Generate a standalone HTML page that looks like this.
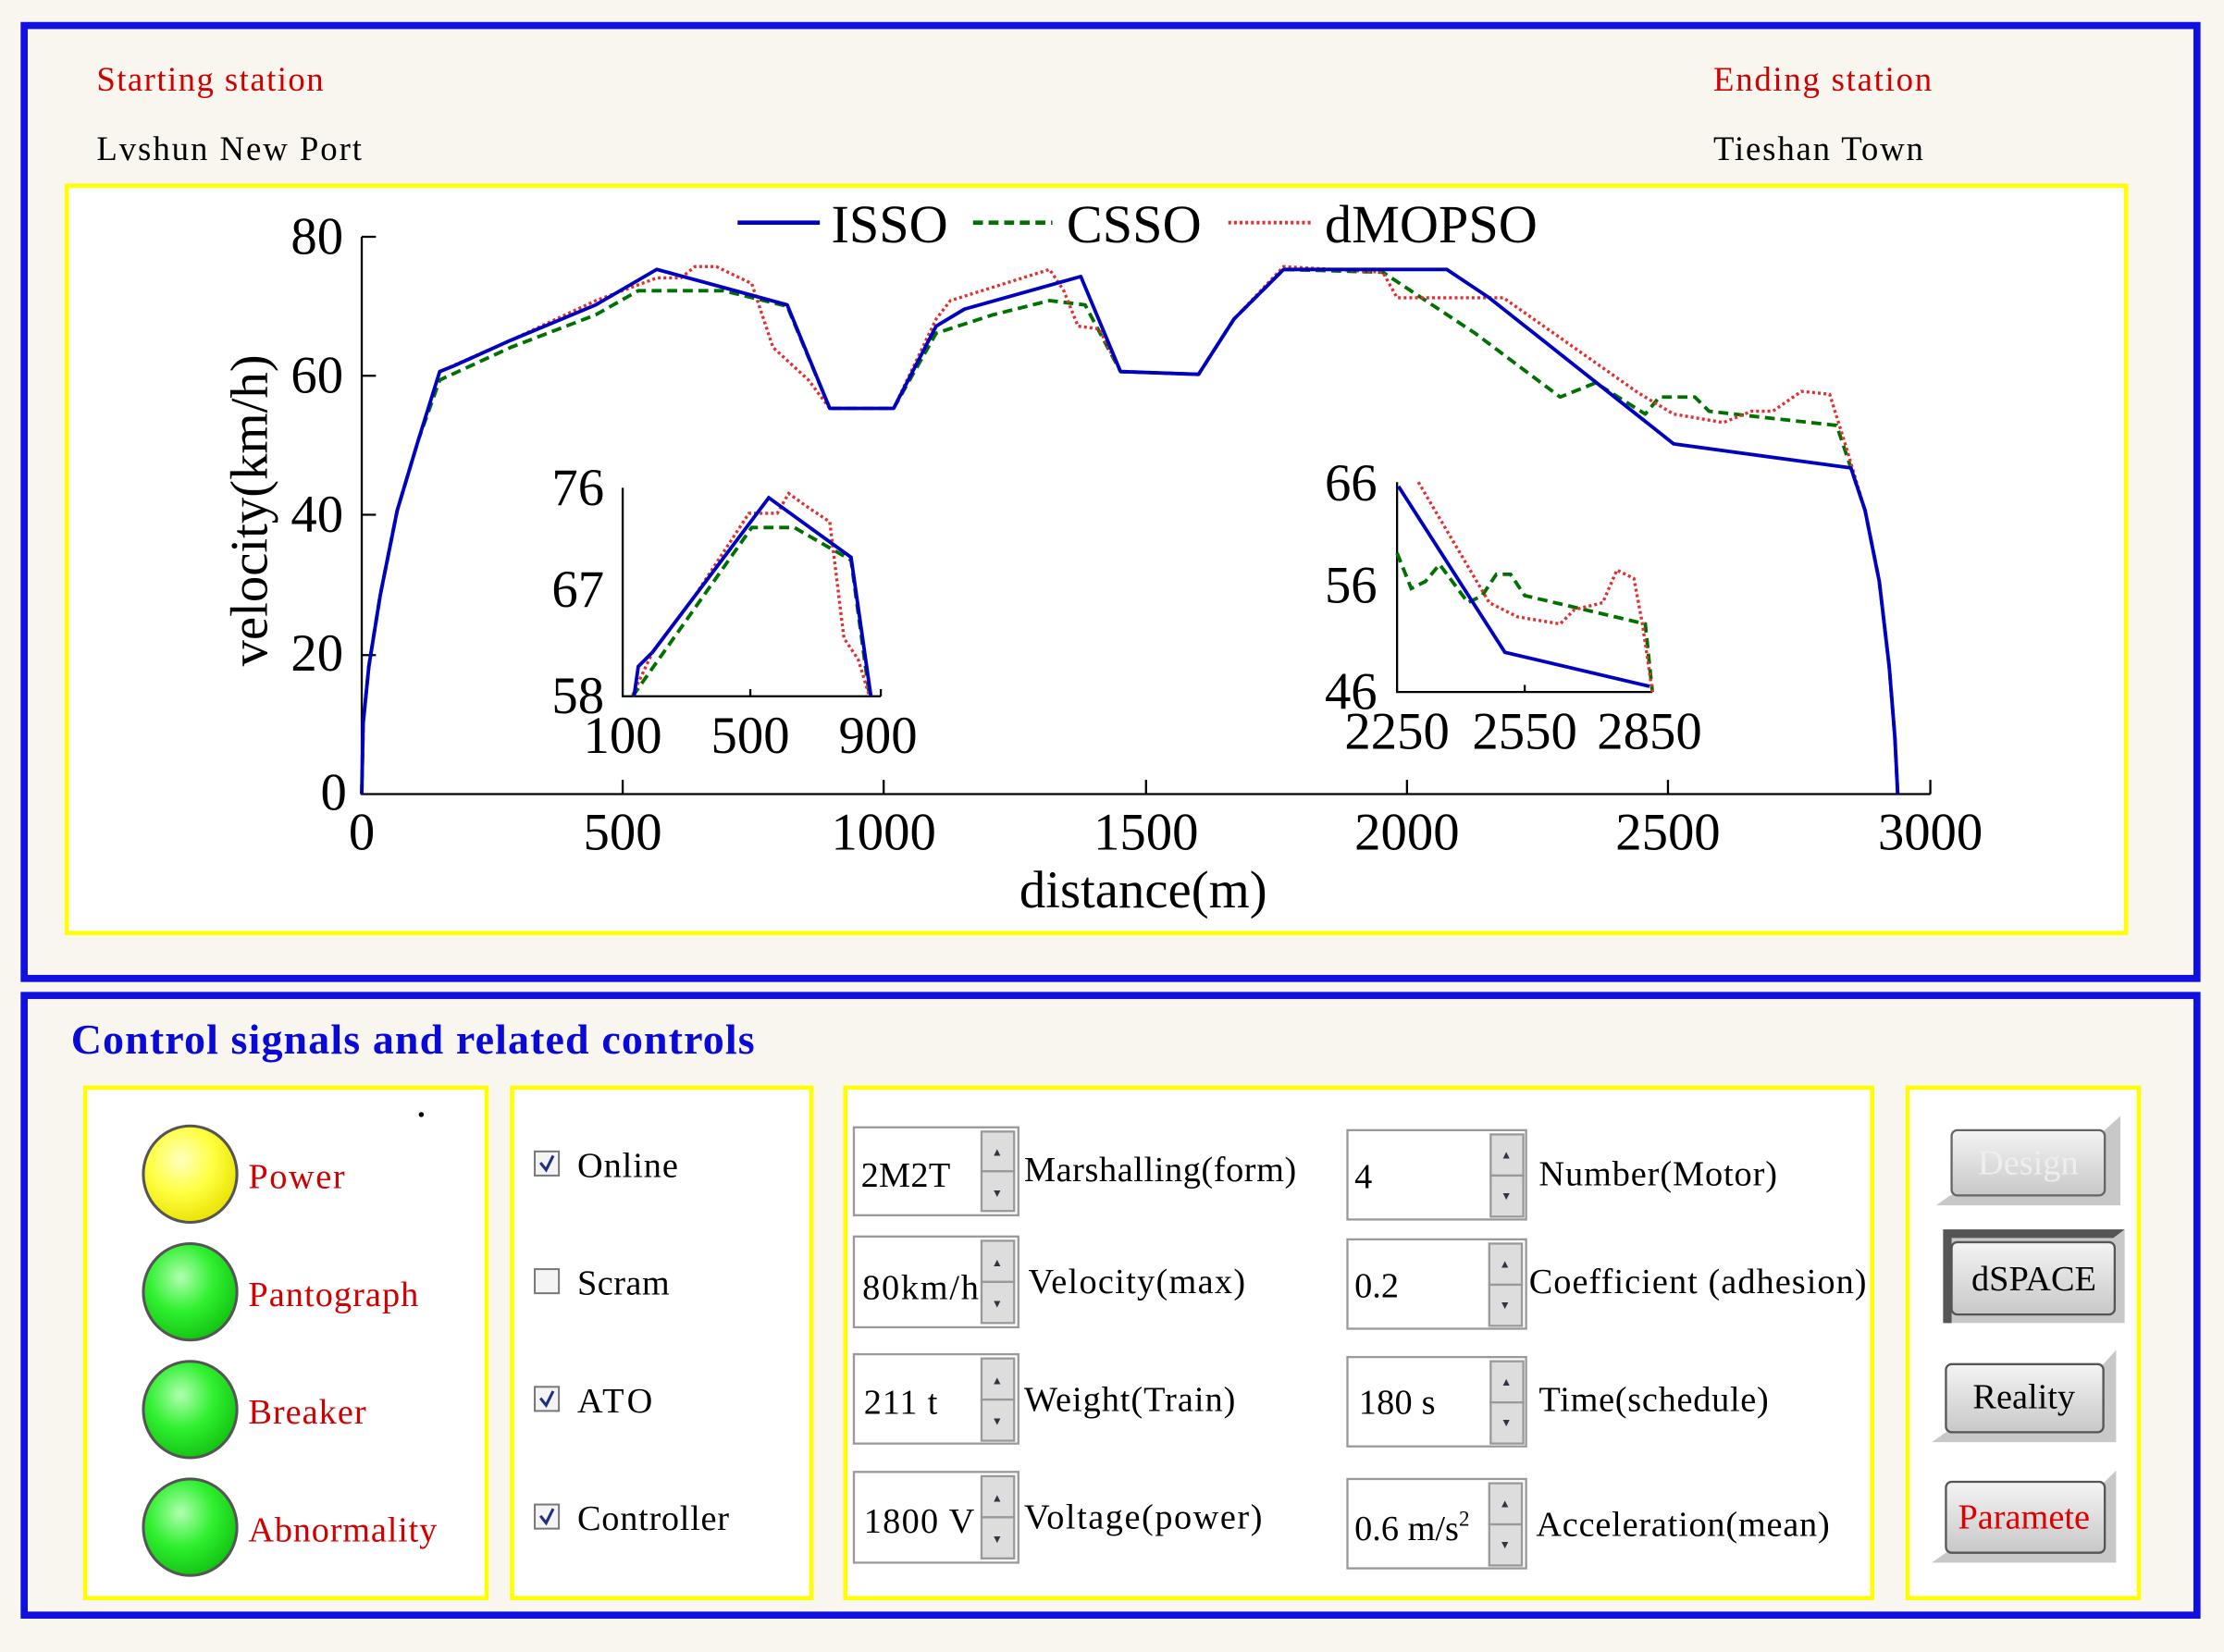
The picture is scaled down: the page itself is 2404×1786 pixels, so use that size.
<!DOCTYPE html>
<html><head><meta charset="utf-8"><style>
html,body{margin:0;padding:0;background:#f8f6ee;}
svg{display:block;}
text{font-family:"Liberation Serif",serif;}
</style></head><body>
<svg width="2404" height="1786" viewBox="0 0 1568 1165" xmlns="http://www.w3.org/2000/svg">
<defs>
<radialGradient id="gy" cx="0.4" cy="0.35" r="0.7"><stop offset="0" stop-color="#ffffc0"/><stop offset="0.5" stop-color="#ffff40"/><stop offset="1" stop-color="#e8e000"/></radialGradient>
<radialGradient id="gg" cx="0.4" cy="0.35" r="0.7"><stop offset="0" stop-color="#b0ffb0"/><stop offset="0.5" stop-color="#30f030"/><stop offset="1" stop-color="#10c010"/></radialGradient>
<linearGradient id="bt" x1="0" y1="0" x2="0" y2="1"><stop offset="0" stop-color="#f4f4f4"/><stop offset="1" stop-color="#c8c8c8"/></linearGradient>
</defs>
<rect width="1568" height="1165" fill="#f8f6ee"/>
<!-- top panel -->
<rect x="17" y="18" width="1532" height="672" fill="#f8f6ee" stroke="#1010e0" stroke-width="5"/>
<text x="68" y="64" font-size="24" fill="#d00000" textLength="160">Starting station</text>
<text x="68" y="113" font-size="24" fill="#000" textLength="187">Lvshun New Port</text>
<text x="1208" y="64" font-size="24" fill="#d00000" textLength="154">Ending station</text>
<text x="1208" y="113" font-size="24" fill="#000" textLength="148">Tieshan Town</text>
<rect x="47" y="131" width="1452" height="527" fill="#fff" stroke="#ffff00" stroke-width="3"/>
<!-- axes -->
<g stroke="#000" stroke-width="1.5" fill="none">
<path d="M255 167 V560 H1361"/>
<path d="M255 167 h10 M255 265 h10 M255 363 h10 M255 462 h10"/>
<path d="M439 560 v-10 M623 560 v-10 M808 560 v-10 M992 560 v-10 M1176 560 v-10 M1361 560 v-10"/>
</g>
<g font-size="37" fill="#000">
<text x="205" y="179">80</text><text x="205" y="277">60</text><text x="205" y="375">40</text><text x="205" y="473">20</text><text x="226" y="571">0</text>
<g text-anchor="middle"><text x="255" y="599">0</text><text x="439" y="599">500</text><text x="623" y="599">1000</text><text x="808" y="599">1500</text><text x="992" y="599">2000</text><text x="1176" y="599">2500</text><text x="1361" y="599">3000</text></g>
<text x="806" y="640" text-anchor="middle">distance(m)</text>
<text transform="translate(188,360) rotate(-90)" text-anchor="middle">velocity(km/h)</text>
</g>
<!-- legend -->
<line x1="520" y1="157" x2="578" y2="157" stroke="#0000c0" stroke-width="3"/>
<text x="586" y="171" font-size="38">ISSO</text>
<line x1="686" y1="157" x2="742" y2="157" stroke="#007000" stroke-width="3" stroke-dasharray="7 4"/>
<text x="752" y="171" font-size="38">CSSO</text>
<line x1="866" y1="157" x2="924" y2="157" stroke="#e03030" stroke-width="2.5" stroke-dasharray="2 2"/>
<text x="934" y="171" font-size="38">dMOPSO</text>
<!-- series -->
<g fill="none" stroke-linejoin="round">
<path stroke="#007000" stroke-width="2.5" stroke-dasharray="7 4" d="M255 560 L256 510 L260 470 L268 420 L280 360 L295 310 L310 268 L360 245 L420 222 L450 205 L510 205 L555 216 L585 288 L630 288 L660 235 L700 222 L740 212 L765 215 L790 262 L845 264 L870 225 L905 190 L975 192 L1040 235 L1100 280 L1125 270 L1160 292 L1170 280 L1195 280 L1205 290 L1240 294 L1295 300 L1305 330 L1315 360 L1325 410 L1332 470 L1336 520 L1338 560"/>
<path stroke="#e03030" stroke-width="2.2" stroke-dasharray="2 2" d="M255 560 L256 510 L260 470 L268 420 L280 360 L295 310 L310 262 L360 240 L420 212 L463 196 L480 196 L490 188 L505 188 L530 200 L545 245 L570 268 L585 288 L630 288 L660 225 L670 212 L740 190 L750 205 L760 230 L775 232 L790 262 L845 264 L870 225 L905 188 L975 192 L985 210 L1060 210 L1155 277 L1180 292 L1215 298 L1235 290 L1250 290 L1270 276 L1290 278 L1300 310 L1315 360 L1325 410 L1332 470 L1336 520 L1338 560"/>
<path stroke="#0000c0" stroke-width="2.5" d="M255 560 L256 510 L260 470 L268 420 L280 360 L295 310 L310 262 L320 258 L360 240 L420 215 L463 190 L500 200 L555 215 L585 288 L630 288 L660 230 L680 218 L762 195 L790 262 L845 264 L870 225 L905 190 L1020 190 L1050 210 L1180 313 L1305 330 L1315 360 L1325 410 L1332 470 L1336 520 L1338 560"/>
</g>
<!-- inset left -->
<g stroke="#000" stroke-width="1.5" fill="none"><path d="M439 344 V491 H621"/><path d="M529 491 v-5 M621 491 v-5"/></g>
<g font-size="37" fill="#000">
<text x="389" y="356">76</text><text x="389" y="428">67</text><text x="389" y="503">58</text>
<text x="439" y="531" text-anchor="middle">100</text><text x="529" y="531" text-anchor="middle">500</text><text x="619" y="531" text-anchor="middle">900</text>
</g>
<g fill="none">
<path stroke="#007000" stroke-width="2.5" stroke-dasharray="7 4" d="M446 491 L530 372 L560 372 L600 395 L613 491"/>
<path stroke="#e03030" stroke-width="2.2" stroke-dasharray="2 2" d="M446 490 L460 460 L490 420 L528 362 L548 362 L556 348 L570 358 L585 368 L595 450 L605 465 L613 491"/>
<path stroke="#0000c0" stroke-width="2.5" d="M447 491 L450 470 L460 460 L542 351 L600 393 L614 491"/>
</g>
<!-- inset right -->
<g stroke="#000" stroke-width="1.5" fill="none"><path d="M985 340 V488 H1165"/><path d="M1075 488 v-5 M1165 488 v-5"/></g>
<g font-size="37" fill="#000">
<text x="934" y="353">66</text><text x="934" y="425">56</text><text x="934" y="500">46</text>
<text x="985" y="528" text-anchor="middle">2250</text><text x="1075" y="528" text-anchor="middle">2550</text><text x="1163" y="528" text-anchor="middle">2850</text>
</g>
<g fill="none">
<path stroke="#007000" stroke-width="2.5" stroke-dasharray="7 4" d="M985 390 L995 415 L1005 410 L1015 398 L1035 425 L1045 420 L1055 405 L1065 405 L1075 420 L1160 440 L1165 488"/>
<path stroke="#e03030" stroke-width="2.2" stroke-dasharray="2 2" d="M1000 340 L1050 425 L1070 435 L1100 440 L1110 430 L1130 425 L1140 402 L1152 408 L1158 440 L1165 488"/>
<path stroke="#0000c0" stroke-width="2.5" d="M986 343 L1061 460 L1163 484"/>
</g>
<!-- bottom panel -->
<rect x="17" y="702" width="1532" height="437" fill="#f8f6ee" stroke="#1010e0" stroke-width="5"/>
<text x="50" y="743" font-size="30" font-weight="bold" fill="#0a0ad8" textLength="482">Control signals and related controls</text>
<g fill="#fff" stroke="#ffff00" stroke-width="3">
<rect x="60" y="767" width="283" height="360"/><rect x="361" y="767" width="211" height="360"/><rect x="596" y="767" width="724" height="360"/><rect x="1345" y="767" width="163" height="360"/>
</g>
<circle cx="297" cy="786" r="1.8" fill="#000"/>
<g stroke="#555" stroke-width="2">
<ellipse cx="134" cy="828" rx="33" ry="34" fill="url(#gy)"/>
<ellipse cx="134" cy="911" rx="33" ry="34" fill="url(#gg)"/>
<ellipse cx="134" cy="994" rx="33" ry="34" fill="url(#gg)"/>
<ellipse cx="134" cy="1077" rx="33" ry="34" fill="url(#gg)"/>
</g>
<g font-size="25" fill="#d00000">
<text x="175" y="838" textLength="68">Power</text><text x="175" y="921" textLength="120">Pantograph</text><text x="175" y="1004" textLength="83">Breaker</text><text x="175" y="1087" textLength="133">Abnormality</text>
</g>
<g stroke="#777" stroke-width="1.3" fill="#f4f4f4">
<rect x="377" y="812" width="17" height="17"/><rect x="377" y="895" width="17" height="17"/><rect x="377" y="978" width="17" height="17"/><rect x="377" y="1061" width="17" height="17"/>
</g>
<g stroke="#203080" stroke-width="2" fill="none">
<path d="M381 820 l4 5 l5 -10"/><path d="M381 986 l4 5 l5 -10"/><path d="M381 1069 l4 5 l5 -10"/>
</g>
<g font-size="25" fill="#000">
<text x="407" y="830" textLength="71">Online</text><text x="407" y="913" textLength="65">Scram</text><text x="407" y="996" textLength="53">ATO</text><text x="407" y="1079" textLength="107">Controller</text>
</g>
<!-- spin boxes -->
<g stroke="#999" stroke-width="1.5">
<rect x="602" y="795" width="116" height="62" fill="#fff"/><rect x="692" y="798" width="23" height="28" fill="#ddd"/><rect x="692" y="826" width="23" height="28" fill="#ddd"/>
<rect x="602" y="872" width="116" height="64" fill="#fff"/><rect x="692" y="875" width="23" height="29" fill="#ddd"/><rect x="692" y="904" width="23" height="29" fill="#ddd"/>
<rect x="602" y="955" width="116" height="63" fill="#fff"/><rect x="692" y="958" width="23" height="29" fill="#ddd"/><rect x="692" y="987" width="23" height="29" fill="#ddd"/>
<rect x="602" y="1038" width="116" height="64" fill="#fff"/><rect x="692" y="1041" width="23" height="29" fill="#ddd"/><rect x="692" y="1070" width="23" height="29" fill="#ddd"/>
<rect x="950" y="797" width="126" height="63" fill="#fff"/><rect x="1051" y="800" width="23" height="29" fill="#ddd"/><rect x="1051" y="829" width="23" height="29" fill="#ddd"/>
<rect x="950" y="874" width="126" height="63" fill="#fff"/><rect x="1050" y="877" width="23" height="29" fill="#ddd"/><rect x="1050" y="906" width="23" height="29" fill="#ddd"/>
<rect x="950" y="957" width="126" height="63" fill="#fff"/><rect x="1051" y="960" width="23" height="29" fill="#ddd"/><rect x="1051" y="989" width="23" height="29" fill="#ddd"/>
<rect x="950" y="1043" width="126" height="63" fill="#fff"/><rect x="1050" y="1046" width="23" height="29" fill="#ddd"/><rect x="1050" y="1075" width="23" height="29" fill="#ddd"/>
</g>
<g fill="#334" font-size="8" text-anchor="middle">
<text x="703" y="815">▲</text><text x="703" y="844">▼</text><text x="703" y="893">▲</text><text x="703" y="922">▼</text><text x="703" y="976">▲</text><text x="703" y="1005">▼</text><text x="703" y="1059">▲</text><text x="703" y="1088">▼</text>
<text x="1062" y="817">▲</text><text x="1062" y="846">▼</text><text x="1061" y="894">▲</text><text x="1061" y="923">▼</text><text x="1062" y="977">▲</text><text x="1062" y="1006">▼</text><text x="1061" y="1063">▲</text><text x="1061" y="1092">▼</text>
</g>
<g font-size="25" fill="#000">
<text x="607" y="837" textLength="63">2M2T</text><text x="608" y="916" textLength="82">80km/h</text><text x="609" y="997" textLength="52">211 t</text><text x="609" y="1081" textLength="78">1800 V</text>
<text x="722" y="833" textLength="192">Marshalling(form)</text><text x="725" y="912" textLength="153">Velocity(max)</text><text x="722" y="995" textLength="149">Weight(Train)</text><text x="722" y="1078" textLength="168">Voltage(power)</text>
<text x="955" y="838">4</text><text x="955" y="915">0.2</text><text x="958" y="997" textLength="54">180 s</text><text x="955" y="1086">0.6 m/s<tspan font-size="15" dy="-10">2</tspan></text>
<text x="1085" y="836" textLength="168">Number(Motor)</text><text x="1078" y="912" textLength="238">Coefficient (adhesion)</text><text x="1085" y="995" textLength="162">Time(schedule)</text><text x="1083" y="1083" textLength="207">Acceleration(mean)</text>
</g>
<!-- buttons -->
<g>
<path d="M1365 850 L1495 850 L1495 787 L1484 797 L1375 843 Z" fill="#c8c8c8"/>
<rect x="1376" y="797" width="108" height="46" rx="4" fill="url(#bt)" stroke="#666" stroke-width="1.5"/>
<text x="1430" y="828" font-size="25" fill="#eee" text-anchor="middle">Design</text>
<rect x="1370" y="867" width="128" height="66" fill="#c8c8c8"/><path d="M1370 867 H1498 L1490 873 H1376 V933 L1370 933 Z" fill="#555"/>
<rect x="1376" y="876" width="115" height="51" rx="4" fill="url(#bt)" stroke="#555" stroke-width="1.5"/>
<text x="1434" y="910" font-size="25" fill="#000" text-anchor="middle">dSPACE</text>
<path d="M1362 1017 L1492 1017 L1492 952 L1483 962 L1372 1010 Z" fill="#c8c8c8"/>
<rect x="1372" y="962" width="111" height="48" rx="4" fill="url(#bt)" stroke="#555" stroke-width="1.5"/>
<text x="1427" y="993" font-size="25" fill="#000" text-anchor="middle">Reality</text>
<path d="M1362 1102 L1492 1102 L1492 1037 L1484 1045 L1372 1095 Z" fill="#c8c8c8"/>
<rect x="1372" y="1045" width="112" height="50" rx="4" fill="url(#bt)" stroke="#555" stroke-width="1.5"/>
<text x="1427" y="1078" font-size="25" fill="#e00000" text-anchor="middle">Paramete</text>
</g>
</svg>
</body></html>
